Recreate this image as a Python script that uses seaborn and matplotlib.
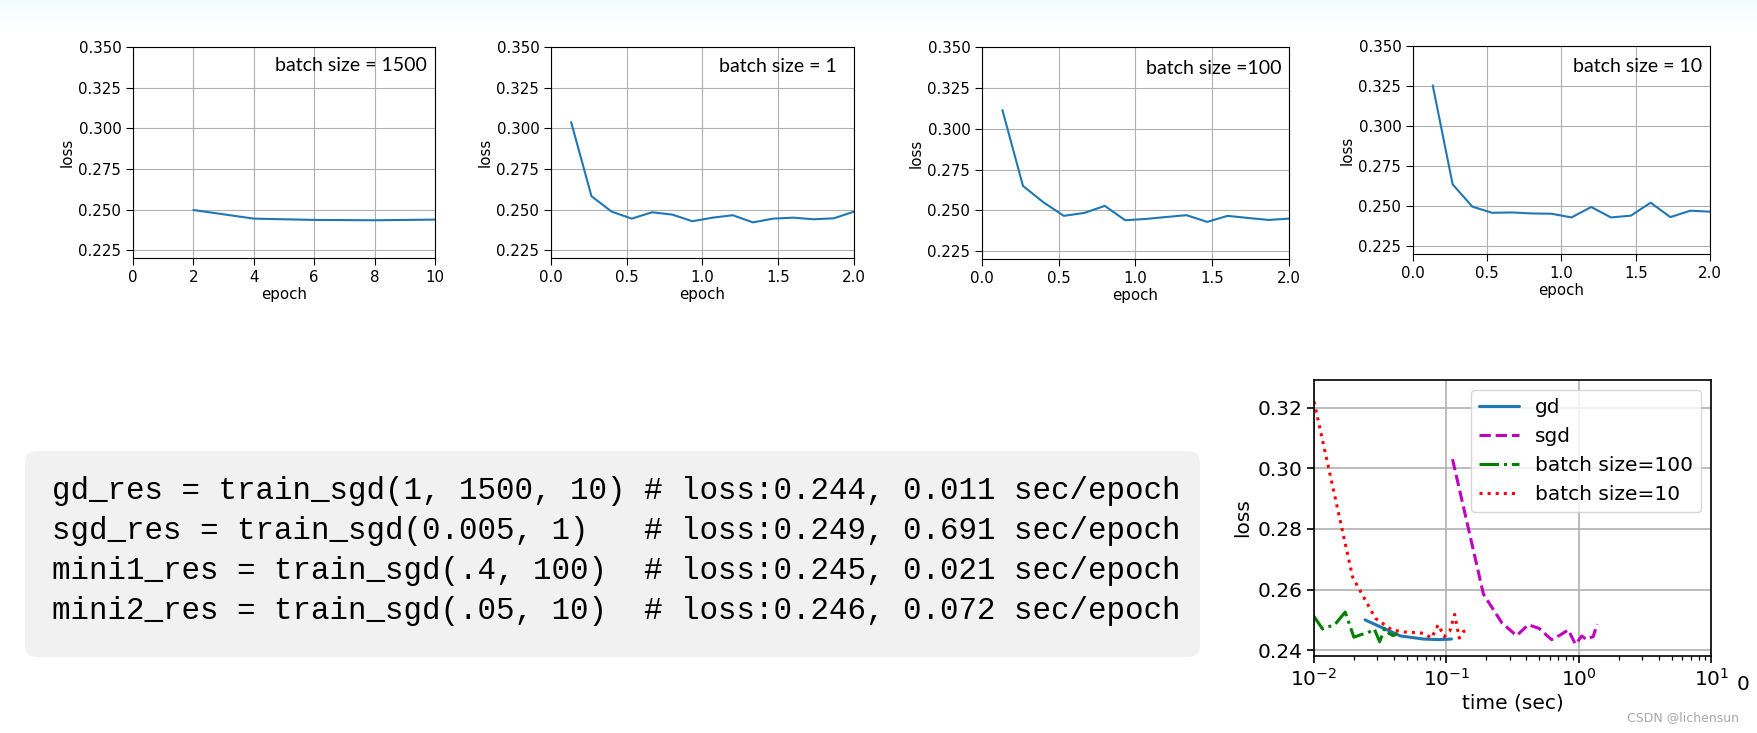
import numpy as np
import matplotlib
matplotlib.use("Agg")
import matplotlib.pyplot as plt
from matplotlib.patches import FancyBboxPatch
from matplotlib.colors import LinearSegmentedColormap
import seaborn as sns

# top row: loss per epoch for each batch size
gd_epoch = [2, 4, 6, 8, 10]
gd_loss = [0.2498, 0.2445, 0.2437, 0.2435, 0.2439]

step_epoch = [0.133, 0.267, 0.4, 0.533, 0.667, 0.8, 0.933, 1.067,
              1.2, 1.333, 1.467, 1.6, 1.733, 1.867, 2.0]
sgd_loss = [0.3038, 0.2583, 0.2488, 0.2445, 0.2484, 0.2470, 0.2429, 0.2451,
            0.2466, 0.2422, 0.2445, 0.2451, 0.2441, 0.2447, 0.2488]
mini1_loss = [0.3114, 0.2650, 0.2550, 0.2467, 0.2485, 0.2528, 0.2440, 0.2448,
              0.2460, 0.2471, 0.2430, 0.2467, 0.2454, 0.2442, 0.2450]
mini2_loss = [0.3254, 0.2637, 0.2498, 0.2460, 0.2462, 0.2456, 0.2454, 0.2431,
              0.2496, 0.2431, 0.2442, 0.2523, 0.2433, 0.2473, 0.2467]

top_labels = ["batch size = 1500", "batch size = 1", "batch size =100", "batch size = 10"]

# bottom right: loss against wall time
gd_time = [0.0243, 0.045, 0.067, 0.088, 0.109]
gd_time_loss = [0.2500, 0.2447, 0.2437, 0.2435, 0.2437]
sgd_time = [0.111, 0.190, 0.262, 0.338, 0.414, 0.50, 0.62, 0.72, 0.83,
            0.94, 1.05, 1.13, 1.20, 1.28, 1.37]
sgd_time_loss = [0.3030, 0.2585, 0.2490, 0.2448, 0.2484, 0.2472, 0.2435, 0.2450,
                 0.2467, 0.2420, 0.2447, 0.2436, 0.2440, 0.2445, 0.2486]
mini1_time = [0.0031, 0.0059, 0.0087, 0.0116, 0.0144, 0.0172, 0.0200, 0.0228,
              0.0256, 0.0285, 0.0313, 0.0341, 0.0369, 0.0397, 0.0426]
mini1_time_loss = [0.3114, 0.2650, 0.2550, 0.2470, 0.2485, 0.2526, 0.2443, 0.2452,
                   0.2458, 0.2470, 0.2428, 0.2472, 0.2455, 0.2448, 0.2456]
mini2_time = [0.0100, 0.0196, 0.0291, 0.0387, 0.0483, 0.0579, 0.0674, 0.0770,
              0.0866, 0.0961, 0.1057, 0.1153, 0.1248, 0.1344, 0.1440]
mini2_time_loss = [0.3220, 0.2640, 0.2505, 0.2467, 0.2460, 0.2458, 0.2456, 0.2440,
                   0.2484, 0.2445, 0.2462, 0.2518, 0.2440, 0.2462, 0.2468]

code_lines = [
    "gd_res = train_sgd(1, 1500, 10) # loss:0.244, 0.011 sec/epoch",
    "sgd_res = train_sgd(0.005, 1)   # loss:0.249, 0.691 sec/epoch",
    "mini1_res = train_sgd(.4, 100)  # loss:0.245, 0.021 sec/epoch",
    "mini2_res = train_sgd(.05, 10)  # loss:0.246, 0.072 sec/epoch",
]

sns.set_style("ticks", {"axes.grid": True, "grid.color": "#b0b0b0",
                        "axes.edgecolor": "black", "text.color": "black",
                        "xtick.color": "black", "ytick.color": "black",
                        "axes.labelcolor": "black"})
plt.rcParams["font.family"] = ["DejaVu Sans"]

W, H = 1758, 733
fig = plt.figure(figsize=(W / 100, H / 100), dpi=100)
fig.patch.set_facecolor("white")

def px_axes(l, r, t, b):
    return fig.add_axes([l / W, 1 - b / H, (r - l) / W, (b - t) / H])

# faint tint at the top of the screenshot
bg = px_axes(0, W, 0, 27)
cm = LinearSegmentedColormap.from_list("tint", ["#f2fbff", "#ffffff"])
bg.imshow(np.linspace(0, 1, 50).reshape(-1, 1), aspect="auto", cmap=cm)
bg.axis("off")

boxes = [(133, 435, 47, 258), (551, 854, 47, 258), (982, 1289, 47, 259), (1413, 1710, 46, 254)]
series = [(gd_epoch, gd_loss), (step_epoch, sgd_loss), (step_epoch, mini1_loss), (step_epoch, mini2_loss)]
lab_pos = [(0.974, 0.888), (0.944, 0.882), (0.974, 0.873), (0.973, 0.875)]

for i, (bx, (xs, ys)) in enumerate(zip(boxes, series)):
    ax = px_axes(*bx)
    sns.lineplot(x=xs, y=ys, ax=ax, color="#1f77b4", linewidth=1.5)
    ax.set_ylim(0.2203, 0.35)
    ax.set_yticks([0.225, 0.25, 0.275, 0.3, 0.325, 0.35])
    ax.yaxis.set_major_formatter(matplotlib.ticker.FormatStrFormatter("%.3f"))
    if i == 0:
        ax.set_xlim(0, 10)
        ax.set_xticks([0, 2, 4, 6, 8, 10])
    else:
        ax.set_xlim(0, 2)
        ax.set_xticks([0, 0.5, 1.0, 1.5, 2.0])
        ax.xaxis.set_major_formatter(matplotlib.ticker.FormatStrFormatter("%.1f"))
    ax.grid(True, color="#b0b0b0", linewidth=0.8)
    ax.tick_params(labelsize=10.8, length=4.9, width=0.8)
    for s in ax.spines.values():
        s.set_linewidth(0.8)
    ax.set_xlabel("epoch", fontsize=10.8, labelpad=2)
    ax.set_ylabel("loss", fontsize=10.8, labelpad=3)
    ax.text(lab_pos[i][0], lab_pos[i][1], top_labels[i], transform=ax.transAxes,
            ha="right", va="baseline", fontsize=14, family=["Lato", "DejaVu Sans"])

# code block
fig.add_artist(FancyBboxPatch((0.35, 0.86), 11.55, 1.86,
                              boxstyle="round,pad=0.1,rounding_size=0.12",
                              transform=fig.dpi_scale_trans,
                              facecolor="#f1f1f1", edgecolor="none"))
for k, line in enumerate(code_lines):
    fig.text(52 / W, 1 - (491 + 40 * k) / H, line, ha="left", va="center",
             fontsize=22.2, family=["Liberation Mono", "DejaVu Sans Mono"])

# loss vs time
ax = px_axes(1314, 1711.5, 380, 655.7)
lw = 2.2
sns.lineplot(x=gd_time, y=gd_time_loss, ax=ax, color="#1f77b4", linewidth=lw, label="gd")
sns.lineplot(x=sgd_time, y=sgd_time_loss, ax=ax, color="m", linewidth=lw, linestyle="--", label="sgd")
sns.lineplot(x=mini1_time, y=mini1_time_loss, ax=ax, color="g", linewidth=lw, linestyle="-.", label="batch size=100")
sns.lineplot(x=mini2_time, y=mini2_time_loss, ax=ax, color="r", linewidth=lw, linestyle=":", label="batch size=10")
ax.set_xscale("log")
ax.set_xlim(1e-2, 1e1)
ax.set_ylim(0.2382, 0.3291)
ax.set_yticks([0.24, 0.26, 0.28, 0.30, 0.32])
ax.yaxis.set_major_formatter(matplotlib.ticker.FormatStrFormatter("%.2f"))
ax.grid(True, which="major", color="#b0b0b0", linewidth=1.2)
ax.grid(False, which="minor")
ax.tick_params(which="major", labelsize=14.5, length=5, width=1.2)
ax.tick_params(which="minor", length=2.9, width=0.9)
for s in ax.spines.values():
    s.set_linewidth(1.2)
ax.set_xlabel("time (sec)", fontsize=14.5, labelpad=3)
ax.set_ylabel("loss", fontsize=14.5, labelpad=4)
leg = ax.legend(loc="upper right", fontsize=14.5, handlelength=2, borderaxespad=0.5,
                framealpha=0.8, edgecolor="#cccccc")

fig.text(1743 / W, 1 - 685 / H, "0", ha="center", va="center", fontsize=14.5)
fig.text(1683 / W, 1 - 718 / H, "CSDN @lichensun", ha="center", va="center",
         fontsize=9, color="#a8a8a8")

fig.savefig("out.png", dpi=100, facecolor="white")
